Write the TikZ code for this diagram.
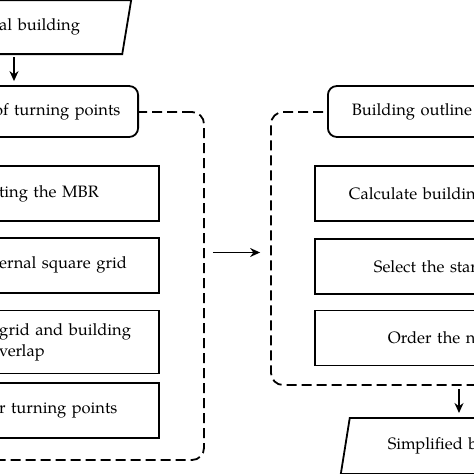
\documentclass[tikz,border=0pt]{standalone}
\usepackage{fontspec}
\setmainfont{texgyrepagella}[Extension=.otf, UprightFont=*-regular, BoldFont=*-bold, ItalicFont=*-italic, BoldItalicFont=*-bolditalic]
\usepackage{tikz}
\usetikzlibrary{shapes.geometric, arrows.meta, positioning, calc, fit}

\begin{document}
\begin{tikzpicture}[
    x=1pt, y=-1pt,
    font=\fontsize{16.5}{21}\selectfont,
    box/.style={rectangle, draw, line width=1.8pt, minimum height=55pt,
                align=left, fill=white},
    lbox/.style={box, text width=156pt, inner xsep=4pt},
    rbox/.style={box, text width=200pt, inner xsep=#1},
    head/.style={box, rounded corners=9pt, minimum height=51pt},
    io/.style={trapezium, trapezium left angle=69, trapezium right angle=111,
               trapezium stretches=true, draw, line width=1.8pt,
               minimum height=54pt, align=left},
    grp/.style={draw, dash pattern=on 10pt off 5pt, line width=1.8pt,
                rounded corners=12pt, inner sep=0pt},
    arrow/.style={-{Stealth[length=10pt,width=9pt]}, line width=1.3pt}
]
\useasboundingbox (0,0) rectangle (474,474);
\clip (0,0) rectangle (474,474);

%% --- Dashed groups ---
\coordinate (lgA) at (-60,112);
\coordinate (lgB) at (204,460);
\coordinate (rgA) at (271,112);
\coordinate (rgB) at (560,385);
\node[grp, fit=(lgA)(lgB)] (lgroup) {};
\node[grp, fit=(rgA)(rgB)] (rgroup) {};

%% --- Left column ---
\node[io, text width=119pt, inner xsep=4pt, anchor=bottom right corner] (orig) at (123,55) {al building};

\node[head, text width=140pt, inner xsep=4pt, anchor=east] (turn) at (139,111.5) {of turning points};

\node[lbox, anchor=north east] (mbr) at (160,165) {ting the MBR};
\node[lbox, below=15pt of mbr.south east, anchor=north east] (grid) {ernal square grid};
\node[lbox, below=16pt of grid.south east, anchor=north east, minimum height=63pt] (overlap)
      {grid and building\\verlap};
\node[lbox, below=8pt of overlap.south east, anchor=north east] (turnpts) {r turning points};

%% --- Right column ---
\node[head, text width=150pt, inner xsep=24pt, anchor=west] (outline) at (327,111.5) {Building outline};

\node[rbox=34pt, anchor=north west] (calc) at (314,165) {Calculate buildin};
\node[rbox=59pt, below=16pt of calc.south west, anchor=north west] (start) {Select the star};
\node[rbox=73pt, below=15pt of start.south west, anchor=north west] (order) {Order the ne};

\node[io, text width=150pt, inner xsep=38pt, minimum height=56pt, anchor=top left corner] (simp) at (349,417) {Simplified b};

%% --- Arrows ---
\coordinate (lcol) at (14,0);
\coordinate (rcol) at (459,0);
\draw[arrow, shorten <=2pt, shorten >=4pt] (orig.south -| lcol) -- (turn.north -| lcol);
\draw[arrow, shorten <=8pt, shorten >=10pt] ($(lgroup.east |- rgroup.west)+(0,4)$) -- ($(rgroup.west)+(0,4)$);
\draw[arrow, shorten <=3pt, shorten >=4pt] (rgroup.south -| rcol) -- (simp.north -| rcol);

\end{tikzpicture}
\end{document}
